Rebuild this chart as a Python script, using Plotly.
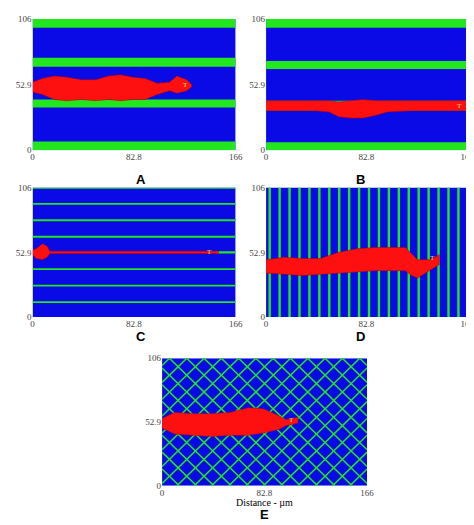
import plotly.graph_objects as go

BLUE = "#0a0ae6"; GREEN = "#22e61e"; RED = "#ff1010"
xticks = [0, 82.8, 166]; yticks = [0, 52.9, 106]
labels = ["A", "B", "C", "D", "E"]

bandsA = [(98.8, 106), (67.5, 74.7), (34.5, 40.9), (0, 7.2)]
bandsB = [(98.8, 106), (65.5, 72), (32, 40), (0, 6.5)]
bandsC = [(105, 106), (92, 93.5), (78.5, 80), (65, 66.5), (38.5, 40), (25, 26.5), (11.5, 13)]
stripesD = [2 + 8.2 * i for i in range(21)]
hatchE = [-180 + 14 * i for i in range(26)]

crackA_x = [0, 8, 18, 28, 40, 52, 62, 72, 82, 92, 102, 112, 118, 126, 130]
crackA_top = [55, 58, 60, 59, 57, 57, 60, 61, 59, 58, 54, 55, 60, 57, 53]
crackA_bot = [47, 45, 41, 40, 41, 40, 41, 40, 41, 41, 45, 48, 46, 48, 51]
crackB_x = [0, 20, 40, 52, 60, 70, 80, 90, 100, 120, 140, 166]
crackB_top = [40, 40, 40, 40, 39, 40, 41, 40, 40, 40, 40, 40]
crackB_bot = [32, 32, 32, 31, 27, 26, 26, 28, 31, 32, 32, 32]
crackC_x = [0, 3, 8, 12, 14, 40, 100, 152]
crackC_top = [55, 56, 60, 58, 54, 54, 54, 54]
crackC_bot = [51, 48, 47, 49, 52, 52, 52, 52]
crackD_x = [0, 15, 30, 45, 60, 75, 90, 105, 115, 120, 125, 135, 143]
crackD_top = [47, 49, 48, 48, 53, 56, 57, 57, 57, 52, 47, 47, 51]
crackD_bot = [36, 35, 34, 35, 36, 37, 38, 38, 38, 34, 32, 38, 43]
crackE_x = [0, 10, 25, 40, 55, 70, 82, 95, 100, 110]
crackE_top = [56, 61, 60, 60, 61, 65, 64, 58, 55, 57]
crackE_bot = [48, 43, 42, 41, 42, 42, 44, 47, 50, 52]
tips = [(125, 53), (160, 36), (145, 53), (137, 48), (105, 55)]

doms = [([23, 230], [6, 140]), ([261, 466], [6, 140]), ([23, 230], [178, 310]),
        ([261, 466], [178, 310]), ([155, 364], [352, 482])]
W, H = 474, 525
fig = go.Figure()
shapes = []
cracks = [(crackA_x, crackA_top, crackA_bot), (crackB_x, crackB_top, crackB_bot),
          (crackC_x, crackC_top, crackC_bot), (crackD_x, crackD_top, crackD_bot),
          (crackE_x, crackE_top, crackE_bot)]
for i, (dx, dy) in enumerate(doms):
    n = "" if i == 0 else str(i + 1)
    xa, ya = "x" + n, "y" + n
    fig.layout["xaxis" + n] = dict(domain=[dx[0] / W, dx[1] / W], range=[0, 166], tickvals=xticks,
        ticktext=["0", "82.8", "166"], showgrid=False, zeroline=False, anchor=ya,
        tickfont=dict(family="Liberation Serif", size=9, color="#444"), ticks="", showline=False)
    fig.layout["yaxis" + n] = dict(domain=[1 - dy[1] / H, 1 - dy[0] / H], range=[0, 106], tickvals=yticks,
        ticktext=["0", "52.9", "106"], showgrid=False, zeroline=False, anchor=xa,
        tickfont=dict(family="Liberation Serif", size=9, color="#444"), ticks="")
    shapes.append(dict(type="rect", xref=xa, yref=ya, x0=0, x1=166, y0=0, y1=106,
                       fillcolor=BLUE, line_width=0, layer="below"))
    if i in (0, 1, 2):
        for y0, y1 in [bandsA, bandsB, bandsC][i]:
            shapes.append(dict(type="rect", xref=xa, yref=ya, x0=0, x1=166, y0=y0, y1=y1,
                               fillcolor=GREEN, line_width=0, layer="below"))
    if i == 2:
        shapes.append(dict(type="rect", xref=xa, yref=ya, x0=150, x1=166, y0=52, y1=54,
                           fillcolor=GREEN, line_width=0, layer="below"))
    if i == 3:
        for s in stripesD:
            shapes.append(dict(type="rect", xref=xa, yref=ya, x0=s, x1=s + 2, y0=0, y1=106,
                               fillcolor=GREEN, line_width=0, layer="below"))
    if i == 4:
        for c in hatchE:
            shapes.append(dict(type="line", xref=xa, yref=ya, x0=0, y0=c, x1=166, y1=c + 166,
                               line=dict(color=GREEN, width=1.5), layer="below"))
            shapes.append(dict(type="line", xref=xa, yref=ya, x0=0, y0=c + 166, x1=166, y1=c,
                               line=dict(color=GREEN, width=1.5), layer="below"))
    cx, ct, cb = cracks[i]
    fig.add_trace(go.Scatter(x=cx + cx[::-1], y=ct + cb[::-1], fill="toself", fillcolor=RED,
                             mode="lines", line=dict(color="#b00000", width=0.5),
                             xaxis=xa, yaxis=ya, hoverinfo="skip"))
    fig.add_annotation(x=tips[i][0], y=tips[i][1], xref=xa, yref=ya, text="T", showarrow=False,
                       font=dict(size=7, color="#ffe060", family="Liberation Serif"))
    ly = dy[1] + 20 if i < 4 else dy[1] + 39
    fig.add_annotation(x=(dx[0] + dx[1]) / 2 / W, y=1 - ly / H, xref="paper", yref="paper",
                       text="<b>%s</b>" % labels[i], showarrow=False,
                       font=dict(size=13, family="Liberation Sans", color="black"))

fig.add_annotation(x=(155 + 364) / 2 / W, y=1 - 507 / H, xref="paper", yref="paper",
                   text="Distance - µm", showarrow=False,
                   font=dict(size=10, family="Liberation Serif", color="black"))
fig.update_layout(width=W, height=H, margin=dict(l=0, r=0, t=0, b=0), showlegend=False,
                  plot_bgcolor="white", paper_bgcolor="white", shapes=shapes)
fig.write_html("out.html")
